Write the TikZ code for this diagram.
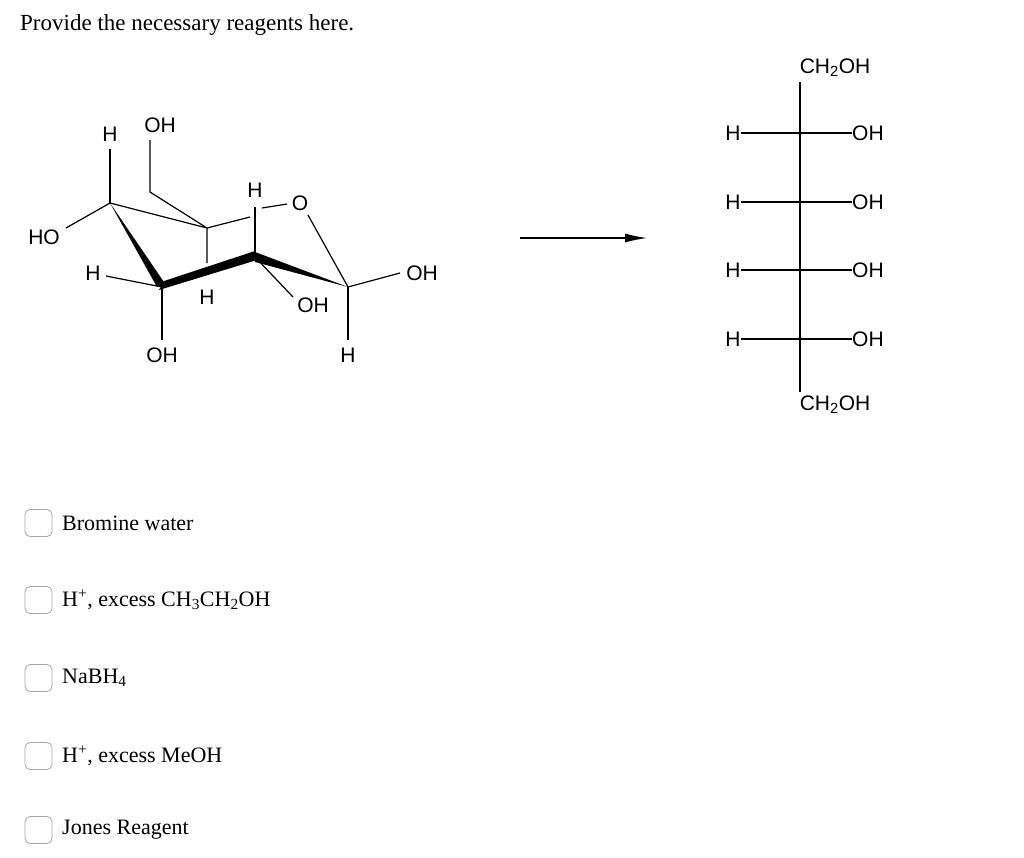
\documentclass[tikz,border=0pt]{standalone}
\usepackage{fontspec}
\usetikzlibrary{calc,arrows.meta}
\setmainfont{Liberation Serif}
\newfontfamily\chem{Liberation Sans}
\begin{document}
\begin{tikzpicture}[x=1pt,y=-1pt,
  lab/.style={font=\chem\fontsize{21}{23}\selectfont,inner sep=0pt},
  bd/.style={line width=1.2pt},
  box/.style={draw=gray!70,line width=0.8pt,rounded corners=5pt,minimum width=27pt,minimum height=27pt,inner sep=0pt},
  opt/.style={anchor=west,font=\fontsize{22}{24}\selectfont,inner sep=0pt}]
\useasboundingbox (0,0) rectangle (1024,857);
\node[anchor=west,font=\fontsize{23}{25}\selectfont,inner sep=0pt] (title) at (20,25) {Provide the necessary reagents here.};
% chair
\coordinate (Ca) at (110,203); \coordinate (Cb) at (207,228); \coordinate (Cc) at (255,257);
\coordinate (Cd) at (162,287); \coordinate (Ce) at (348,287);
\node[lab] (HO1) at (44,237) {HO};
\node[lab] (H1) at (110,134) {H};
\node[lab] (OH1) at (160,125) {OH};
\node[lab] (H2) at (255,190) {H};
\node[lab] (O) at (300,203) {O};
\node[lab] (H3) at (93,273) {H};
\node[lab] (H4) at (207,297) {H};
\node[lab] (OH2) at (313,305) {OH};
\node[lab] (OH3) at (162,355) {OH};
\node[lab] (H5) at (348,355) {H};
\node[lab] (OH4) at (422,273) {OH};
\coordinate (ca1) at (66,228); \coordinate (cb1) at (150,192); \coordinate (cb2) at (207,263);
\coordinate (cb3) at (250,217); \coordinate (h2a) at (255,207); \coordinate (oa) at (262,208);
\coordinate (ce1) at (400,273); \coordinate (ce2) at (348,340); \coordinate (cd1) at (106,276);
\coordinate (cd2) at (162,340); \coordinate (cc1) at (293,297);
\draw[bd] (Ca) -- (ca1);
\draw[bd] (Ca) -- (110,149);
\draw[bd] (150,140) -- (cb1) -- (Cb);
\draw[bd] (Ca) -- (Cb) -- (cb2);
\draw[bd] (Cb) -- (cb3);
\draw[bd] (h2a) -- (Cc);
\draw[bd] (oa) -- (287,204);
\draw[bd] (308,215) -- (Ce);
\draw[bd] (Ce) -- (ce1);
\draw[bd] (Ce) -- (ce2);
\draw[bd] (Cd) -- (cd1);
\draw[bd] (Cd) -- (cd2);
\draw[bd] (Cc) -- (cc1);
\fill (Ca) -- ($(Cd)+(-5,0)$) -- ($(Cd)+(4,-2)$) -- cycle;
\fill ($(Cd)+(-3,3)$) -- ($(Cd)+(2,-6)$) -- ($(Cc)+(0,-6)$) -- ($(Cc)+(2,3)$) -- cycle;
\fill ($(Cc)+(0,-5)$) -- ($(Cc)+(0,5)$) -- (Ce) -- cycle;
% arrow
\coordinate (a1) at (520,238); \coordinate (a2) at (647,238);
\draw[line width=1.2pt,-{Latex[length=22pt,width=9pt]}] (a1) -- (a2);
% Fischer
\node[lab] (top) at (835,68) {CH\textsubscript{2}OH};
\node[lab] (bot) at (835,405) {CH\textsubscript{2}OH};
\draw[bd] (800,82) -- (800,392);
\foreach \y [count=\i] in {133,202,270,339}{
  \node[lab] (hL\i) at (733,\y) {H};
  \node[lab,anchor=west] (oR\i) at (852,\y) {OH};
  \draw[bd] (hL\i.east) -- (oR\i.west);
}
% options
\foreach \y/\t [count=\i] in {523/{Bromine water},600/{H\textsuperscript{+}, excess CH\textsubscript{3}CH\textsubscript{2}OH},678/{NaBH\textsubscript{4}},756/{H\textsuperscript{+}, excess MeOH},830/{Jones Reagent}}{
  \node[box] (b\i) at (38.5,\y) {};
  \node[opt] (t\i) at (62,\y) {\t};
}
\end{tikzpicture}
\end{document}
